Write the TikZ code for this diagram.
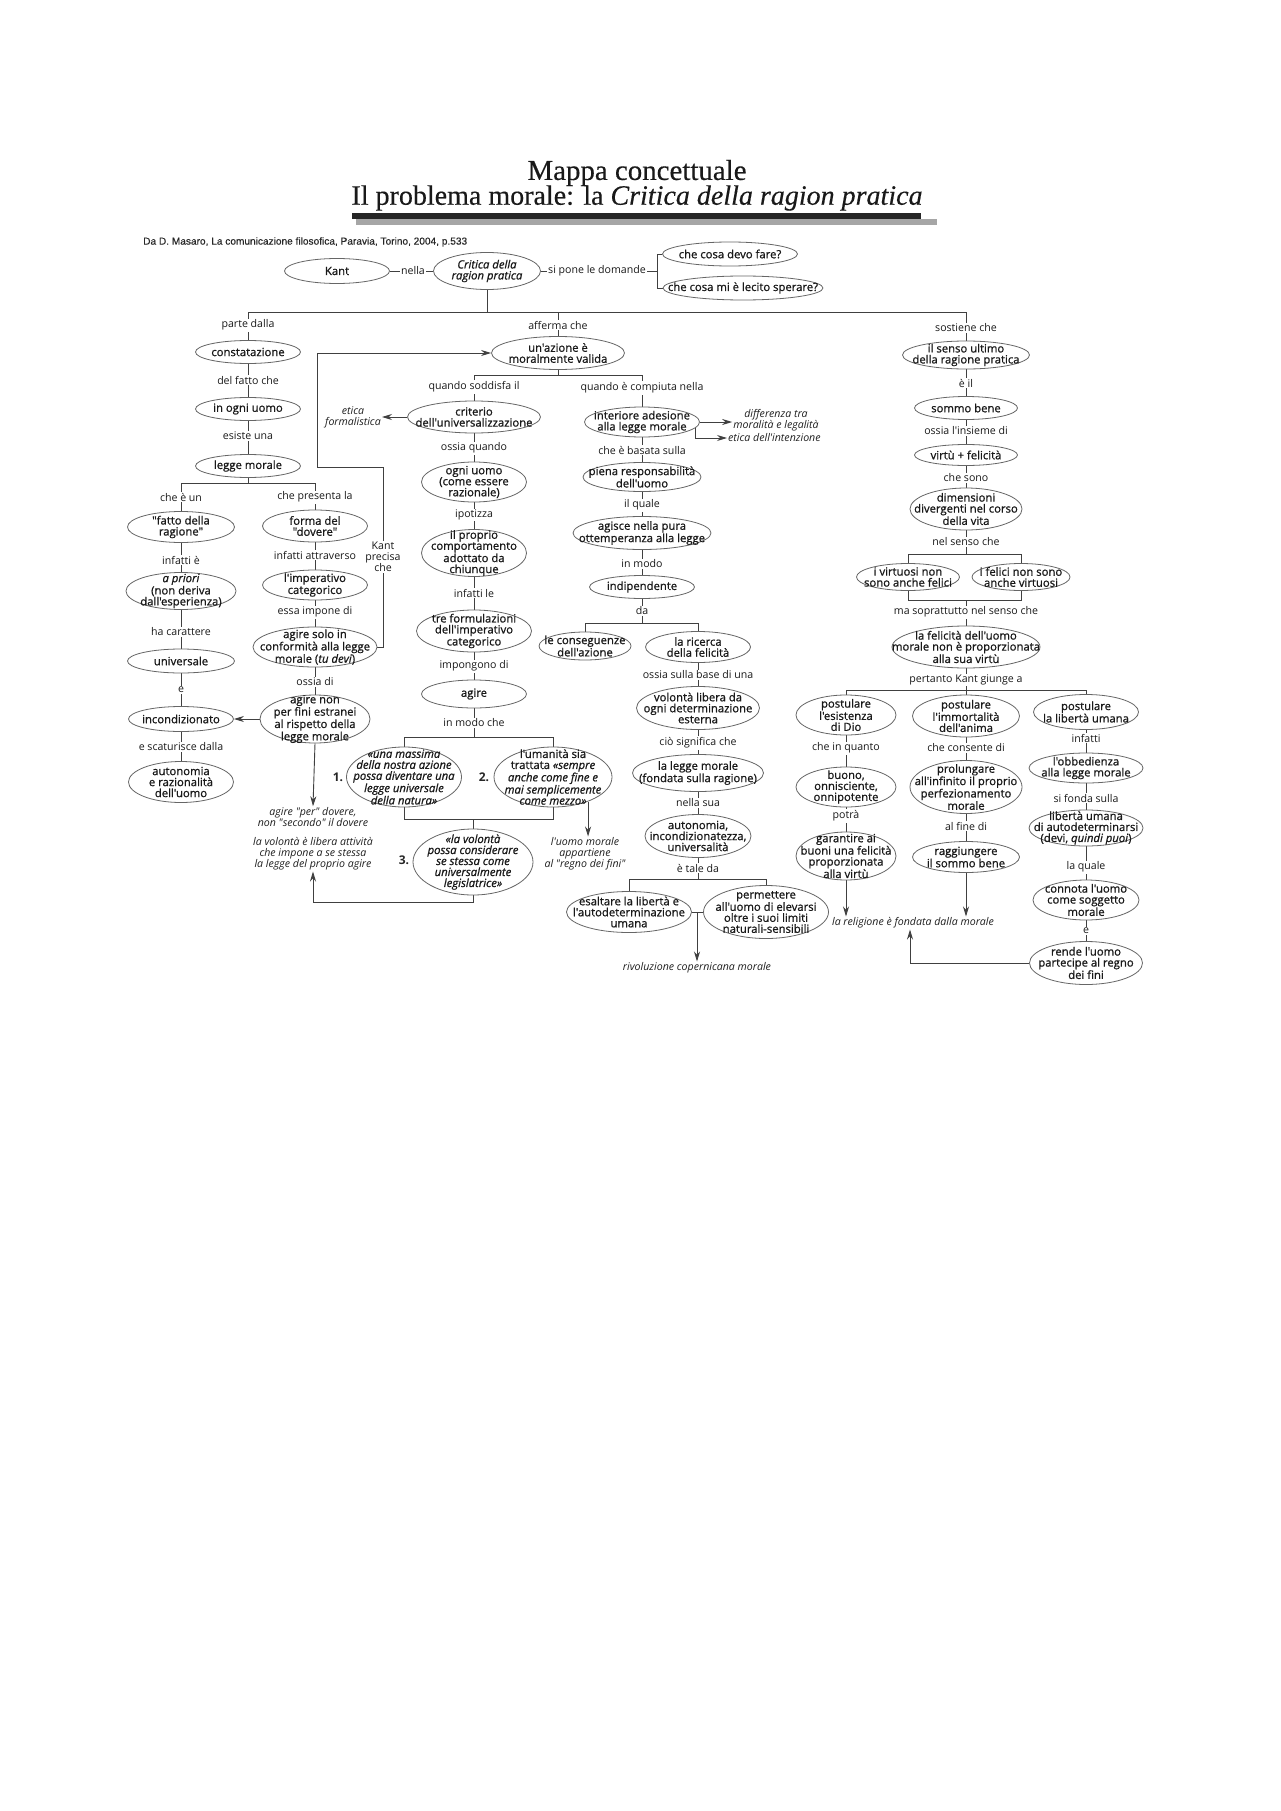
\documentclass[tikz,border=0pt]{standalone}
\usepackage{fontspec}
\usepackage{graphicx}
\usetikzlibrary{shapes.geometric,arrows.meta}
\newfontfamily\osans{Open Sans}
\newfontfamily\osansb[FakeBold=0.9]{Open Sans}
\newfontfamily\srcfont[FakeBold=0.4]{Liberation Sans}
\newfontfamily\titlefont[FakeBold=0.3]{Liberation Serif}
\pgfdeclarelayer{bg}
\pgfsetlayers{bg,main}
\tikzset{
  ov/.style={draw=black!60, line width=0.8pt, ellipse, inner sep=0pt},
  etx/.style={align=center, inner sep=0pt, text=black!90, font=\osansb\fontsize{11.3}{11}\selectfont},
  lab/.style={fill=white, inner sep=1.2pt, text=black!90, font=\osans\fontsize{10.6}{10.5}\selectfont},
  itx/.style={align=center, inner sep=1pt, text=black!88, font=\osans\itshape\fontsize{10.6}{11}\selectfont},
  ln/.style={draw=black!75, line width=0.9pt},
  arr/.style={ln, -{Stealth[length=10pt,width=6pt]}},
  num/.style={font=\osans\bfseries\fontsize{12}{12}\selectfont, text=black!85}
}
\newcommand\ELL[6]{\node[ov,minimum width=#4pt,minimum height=#5pt] (#1) at (#2,#3) {}; \node[etx] (#1-t) at (#1) {#6};}
\newcommand\LAB[4]{\node[lab] (#1) at (#2,#3) {#4};}
\begin{document}
\begin{tikzpicture}[x=1pt,y=-1pt]
\useasboundingbox (0,0) rectangle (1280,1811);
\begin{pgfonlayer}{bg}
\fill[white] (0,0) rectangle (1280,1811);
\end{pgfonlayer}
% title
\node[inner sep=0pt, text=black!90] (title1) at (637,173) {\resizebox{219pt}{!}{\titlefont\fontsize{24}{24}\selectfont Mappa concettuale}};
\node[inner sep=0pt, text=black!90] (title2) at (637,198) {\resizebox{571pt}{!}{\titlefont\fontsize{24}{24}\selectfont Il problema morale: la \textit{Critica della ragion pratica}}};
\fill[black!35] (356,219) rectangle (937,225);
\fill[black!85] (352,213) rectangle (921,219);
\node[anchor=west, inner sep=0pt, text=black!85] (src) at (143,242) {\resizebox{324pt}{!}{\srcfont Da D. Masaro, La comunicazione filosofica, Paravia, Torino, 2004, p.533}};
% top row
\ELL{kant}{337}{271}{105}{25}{Kant}
\ELL{crit0}{487}{271}{107}{37}{\textit{Critica della}\\\textit{ragion pratica}}
\ELL{devo}{730}{254}{135}{24}{che cosa devo fare?}
\ELL{sperare}{743}{288}{160}{24}{che cosa mi è lecito sperare?}
% left column
\ELL{constat}{248}{352}{105}{23}{constatazione}
\ELL{ogni}{248}{409}{105}{23}{in ogni uomo}
\ELL{legge}{248}{466}{105}{23}{legge morale}
\ELL{fatto}{181}{527}{107}{31}{"fatto della\\ragione"}
\ELL{apriori}{181}{591}{110}{37}{\textit{a priori}\\(non deriva\\dall'esperienza)}
\ELL{univ}{181}{661}{107}{24}{universale}
\ELL{incond}{181}{719}{105}{25}{incondizionato}
\ELL{auton}{181}{782}{105}{41}{autonomia\\e razionalità\\dell'uomo}
\ELL{forma}{315}{526}{105}{32}{forma del\\"dovere"}
\ELL{imper}{315}{585}{105}{30}{l'imperativo\\categorico}
\ELL{agsolo}{315}{647}{124}{40}{agire solo in\\conformità alla legge\\morale (\textit{tu devi})}
\ELL{agnon}{315}{719}{110}{48}{agire non\\per fini estranei\\al rispetto della\\legge morale}
% column 2
\ELL{azione}{558}{353}{133}{33}{un'azione è\\moralmente valida}
\ELL{crit}{474}{417}{133}{32}{criterio\\dell'universalizzazione}
\ELL{ogniu}{474}{482}{105}{40}{ogni uomo\\(come essere\\razionale)}
\ELL{propr}{474}{553}{105}{47}{il proprio\\comportamento\\adottato da\\chiunque}
\ELL{tre}{474}{631}{115}{42}{tre formulazioni\\dell'imperativo\\categorico}
\ELL{agire}{474}{694}{105}{28}{agire}
\ELL{f1}{404}{777}{115}{60}{\textit{«una massima}\\\textit{della nostra azione}\\\textit{possa diventare una}\\\textit{legge universale}\\\textit{della natura»}}
\ELL{f2}{553}{777}{118}{60}{l'umanità sia\\trattata \textit{«sempre}\\\textit{anche come fine e}\\\textit{mai semplicemente}\\\textit{come mezzo»}}
\ELL{f3}{473}{862}{120}{66}{\textit{«la volontà}\\\textit{possa considerare}\\\textit{se stessa come}\\\textit{universalmente}\\\textit{legislatrice»}}
\node[num] (n1) at (338,777) {1.};
\node[num] (n2) at (484,777) {2.};
\node[num] (n3) at (404,860) {3.};
% column 3
\ELL{inter}{642}{422}{115}{30}{interiore adesione\\alla legge morale}
\ELL{piena}{642}{477}{118}{29}{piena responsabilità\\dell'uomo}
\ELL{agisce}{642}{533}{138}{33}{agisce nella pura\\ottemperanza alla legge}
\ELL{indip}{642}{587}{105}{23}{indipendente}
\ELL{conseg}{585}{646}{92}{28}{le conseguenze\\dell'azione}
\ELL{ricerca}{698}{647}{105}{31}{la ricerca\\della felicità}
\ELL{volonta}{698}{708}{123}{43}{volontà libera da\\ogni determinazione\\esterna}
\ELL{leggemor}{698}{773}{131}{37}{la legge morale\\(fondata sulla ragione)}
\ELL{autonomia}{698}{836}{106}{43}{autonomia,\\incondizionatezza,\\universalità}
\ELL{esaltare}{629}{912}{125}{41}{esaltare la libertà e\\l'autodeterminazione\\umana}
\ELL{permettere}{766}{912}{125}{53}{permettere\\all'uomo di elevarsi\\oltre i suoi limiti\\naturali-sensibili}
% column 4
\ELL{senso}{966}{355}{127}{28}{il senso ultimo\\della ragione pratica}
\ELL{sommo}{966}{408}{103}{23}{sommo bene}
\ELL{virtu}{966}{455}{103}{21}{virtù + felicità}
\ELL{dimens}{966}{509}{112}{42}{dimensioni\\divergenti nel corso\\della vita}
\ELL{virtuosi}{908}{577}{103}{27}{i virtuosi non\\sono anche felici}
\ELL{felici}{1021}{577}{98}{27}{i felici non sono\\anche virtuosi}
\ELL{felic}{966}{647}{148}{42}{la felicità dell'uomo\\morale non è proporzionata\\alla sua virtù}
\ELL{dio}{846}{715}{100}{40}{postulare\\l'esistenza\\di Dio}
\ELL{immort}{966}{716}{107}{42}{postulare\\l'immortalità\\dell'anima}
\ELL{liberta}{1086}{712}{105}{35}{postulare\\la libertà umana}
\ELL{buono}{846}{787}{100}{40}{buono,\\onnisciente,\\onnipotente}
\ELL{garantire}{846}{856}{100}{48}{garantire ai\\buoni una felicità\\proporzionata\\alla virtù}
\ELL{prolung}{966}{787}{112}{53}{prolungare\\all'infinito il proprio\\perfezionamento\\morale}
\ELL{raggiung}{966}{857}{107}{31}{raggiungere\\il sommo bene}
\ELL{obbed}{1086}{768}{114}{30}{l'obbedienza\\alla legge morale}
\ELL{libum}{1086}{828}{114}{36}{libertà umana\\di autodeterminarsi\\(devi, \textit{quindi puoi})}
\ELL{connota}{1086}{900}{106}{40}{connota l'uomo\\come soggetto\\morale}
\ELL{rende}{1086}{963}{113}{43}{rende l'uomo\\partecipe al regno\\dei fini}
% labels
\LAB{l-nella}{413}{271}{nella}
\LAB{l-pone}{597}{271}{si pone le domande}
\LAB{l-parte}{248}{325}{parte dalla}
\LAB{l-afferma}{558}{325}{afferma che}
\LAB{l-sostiene}{966}{328}{sostiene che}
\LAB{l-fatto}{248}{380}{del fatto che}
\LAB{l-esiste}{248}{436}{esiste una}
\LAB{l-cheun}{181}{497}{che è un}
\LAB{l-presenta}{315}{497}{che presenta la}
\LAB{l-infe}{181}{560}{infatti è}
\LAB{l-hacar}{181}{632}{ha carattere}
\LAB{l-e1}{181}{690}{e}
\LAB{l-scat}{181}{747}{e scaturisce dalla}
\LAB{l-attr}{315}{555}{infatti attraverso}
\LAB{l-impone}{315}{612}{essa impone di}
\LAB{l-ossiadi}{315}{682}{ossia di}
\node[lab,align=center] (kp) at (383,557) {Kant\\precisa\\che};
\LAB{l-sodd}{474}{387}{quando soddisfa il}
\LAB{l-ossiaq}{474}{448}{ossia quando}
\LAB{l-ipot}{474}{515}{ipotizza}
\LAB{l-infle}{474}{593}{infatti le}
\LAB{l-impong}{474}{666}{impongono di}
\LAB{l-inmodo}{474}{723}{in modo che}
\LAB{l-compiuta}{642}{388}{quando è compiuta nella}
\LAB{l-basata}{642}{450}{che è basata sulla}
\LAB{l-ilquale}{642}{505}{il quale}
\LAB{l-inmodo2}{642}{564}{in modo}
\LAB{l-da}{642}{611}{da}
\LAB{l-base}{698}{675}{ossia sulla base di una}
\LAB{l-cio}{698}{743}{ciò significa che}
\LAB{l-nellasua}{698}{803}{nella sua}
\LAB{l-tale}{698}{868}{è tale da}
\LAB{l-eil}{966}{383}{è il}
\LAB{l-insieme}{966}{431}{ossia l'insieme di}
\LAB{l-sono}{966}{478}{che sono}
\LAB{l-nelsenso}{966}{542}{nel senso che}
\LAB{l-soprat}{966}{612}{ma soprattutto nel senso che}
\LAB{l-pertanto}{966}{680}{pertanto Kant giunge a}
\LAB{l-inquanto}{846}{748}{che in quanto}
\LAB{l-potra}{846}{816}{potrà}
\LAB{l-consente}{966}{748}{che consente di}
\LAB{l-alfine}{966}{826}{al fine di}
\LAB{l-infatti}{1086}{738}{infatti}
\LAB{l-fonda}{1086}{798}{si fonda sulla}
\LAB{l-laquale}{1086}{867}{la quale}
\LAB{l-e2}{1086}{931}{e}
% italic texts
\node[itx] (etica) at (353,417) {etica\\formalistica};
\node[itx] (diff) at (776,420) {differenza tra\\moralità e legalità};
\node[itx,anchor=west] (intenz) at (727,438) {etica dell'intenzione};
\node[itx] (perdov) at (313,817) {agire "per" dovere,\\non "secondo" il dovere};
\node[itx] (volib) at (313,854) {la volontà è libera attività\\che impone a se stessa\\la legge del proprio agire};
\node[itx] (regno) at (585,854) {l'uomo morale\\appartiene\\al "regno dei fini"};
\node[itx] (rivol) at (697,968) {rivoluzione copernicana morale};
\node[itx] (relig) at (913,923) {la religione è fondata dalla morale};
% connectors
\begin{pgfonlayer}{bg}
\coordinate (br) at (657.5,271);
\draw[ln] (kant) -- (crit0);
\draw[ln] (crit0.east) -- (br);
\draw[ln] (devo.west) -| (br) |- (sperare.west);
\coordinate (tC) at (487,312);
\coordinate (tL) at (248,312);
\coordinate (tM) at (558,312);
\coordinate (tR) at (966,312);
\draw[ln] (crit0.south) -- (tC);
\draw[ln] (tL) -- (tR);
\draw[ln] (tL) -- (constat.north);
\draw[ln] (tM) -- (azione.north);
\draw[ln] (tR) -- (senso.north);
% left
\draw[ln] (constat) -- (ogni);
\draw[ln] (ogni) -- (legge);
\coordinate (lb) at (248,483);
\coordinate (lbL) at (181,483);
\coordinate (lbR) at (315,483);
\draw[ln] (legge.south) -- (lb);
\draw[ln] (lbL) -- (lbR);
\draw[ln] (lbL) -- (fatto.north);
\draw[ln] (lbR) -- (forma.north);
\draw[ln] (fatto) -- (apriori);
\draw[ln] (apriori) -- (univ);
\draw[ln] (univ) -- (incond);
\draw[ln] (incond) -- (auton);
\draw[ln] (forma) -- (imper);
\draw[ln] (imper) -- (agsolo);
\draw[ln] (agsolo) -- (agnon);
\draw[arr] (agnon) -- (incond);
\draw[arr] (agnon.south) -- (perdov.north);
\coordinate (k1) at (383,467);
\coordinate (k2) at (317,467);
\draw[ln] (agsolo.east) -| (kp.south);
\draw[arr] (kp.north) -- (k1) -- (k2) |- (azione.west);
% column 2
\coordinate (ab) at (558,375);
\coordinate (abL) at (474,375);
\coordinate (abR) at (642,375);
\draw[ln] (azione.south) -- (ab);
\draw[ln] (abL) -- (abR);
\draw[ln] (abL) -- (crit.north);
\draw[ln] (abR) -- (inter.north);
\draw[arr] (crit.west) -- (etica.east);
\draw[ln] (crit) -- (ogniu);
\draw[ln] (ogniu) -- (propr);
\draw[ln] (propr) -- (tre);
\draw[ln] (tre) -- (agire);
\coordinate (agb) at (474,737);
\coordinate (f1b) at (404,737);
\coordinate (f2b) at (553,737);
\draw[ln] (agire.south) -- (agb);
\draw[ln] (f1b) -- (f2b);
\draw[ln] (f1b) -- (f1.north);
\draw[ln] (f2b) -- (f2.north);
\coordinate (f1s) at (404,819);
\coordinate (f2s) at (553,819);
\coordinate (f3c) at (473,819);
\draw[ln] (f1.south) -- (f1s) -- (f2s) -- (f2.south);
\draw[ln] (f3c) -- (f3.north);
\coordinate (fb) at (473,902);
\draw[arr] (f3.south) -- (fb) -| (volib.south);
\draw[arr] (f2.325) -- (f2.325 |- regno.north);
% column 3
\draw[arr] (inter.east) -- (inter.east -| diff.west);
\draw[arr] (inter.354) |- (intenz.west);
\draw[ln] (inter) -- (piena);
\draw[ln] (piena) -- (agisce);
\draw[ln] (agisce) -- (indip);
\coordinate (ib) at (642,623);
\coordinate (ibL) at (585,623);
\coordinate (ibR) at (698,623);
\draw[ln] (indip.south) -- (ib);
\draw[ln] (ibL) -- (ibR);
\draw[ln] (ibL) -- (conseg.north);
\draw[ln] (ibR) -- (ricerca.north);
\draw[ln] (ricerca) -- (volonta);
\draw[ln] (volonta) -- (leggemor);
\draw[ln] (leggemor) -- (autonomia);
\coordinate (aub) at (698,879);
\coordinate (auL) at (629,879);
\coordinate (auR) at (766,879);
\draw[ln] (autonomia.south) -- (aub);
\draw[ln] (auL) -- (auR);
\draw[ln] (auL) -- (esaltare.north);
\draw[ln] (auR) -- (permettere.north);
\draw[ln] (esaltare.east) -- (permettere.west);
\coordinate (ej) at (697,912);
\draw[arr] (ej) -- (rivol.north);
% column 4
\draw[ln] (senso) -- (sommo);
\draw[ln] (sommo) -- (virtu);
\draw[ln] (virtu) -- (dimens);
\coordinate (db) at (966,554);
\coordinate (dbL) at (908,554);
\coordinate (dbR) at (1021,554);
\draw[ln] (dimens.south) -- (db);
\draw[ln] (dbL) -- (dbR);
\draw[ln] (dbL) -- (virtuosi.north);
\draw[ln] (dbR) -- (felici.north);
\coordinate (vb1) at (908,600);
\coordinate (vb2) at (1021,600);
\coordinate (vbc) at (966,600);
\draw[ln] (virtuosi.south) -- (vb1) -- (vb2) -- (felici.south);
\draw[ln] (vbc) -- (felic.north);
\coordinate (pb) at (966,690);
\coordinate (pbL) at (846,690);
\coordinate (pbR) at (1086,690);
\draw[ln] (felic.south) -- (pb);
\draw[ln] (pbL) -- (pbR);
\draw[ln] (pbL) -- (dio.north);
\draw[ln] (pb) -- (immort.north);
\draw[ln] (pbR) -- (liberta.north);
\draw[ln] (dio) -- (buono);
\draw[ln] (buono) -- (garantire);
\draw[ln] (immort) -- (prolung);
\draw[ln] (prolung) -- (raggiung);
\draw[ln] (liberta) -- (obbed);
\draw[ln] (obbed) -- (libum);
\draw[ln] (libum) -- (connota);
\draw[ln] (connota) -- (rende);
\draw[arr] (garantire.south) -- (garantire.south |- relig.north);
\draw[arr] (raggiung.south) -- (raggiung.south |- relig.north);
\coordinate (rj) at (910,963);
\draw[arr] (rende.west) -- (rj) -- (rj |- relig.south);
\end{pgfonlayer}
\end{tikzpicture}
\end{document}
